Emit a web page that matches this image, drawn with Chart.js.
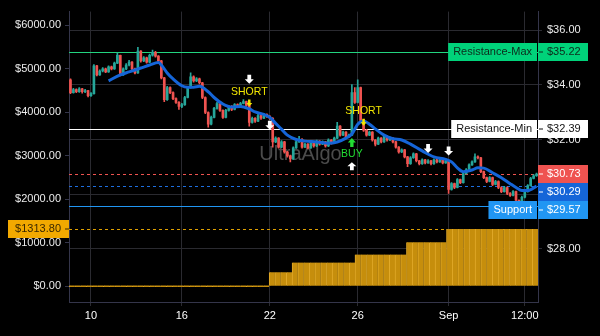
<!DOCTYPE html>
<html>
<head>
<meta charset="utf-8">
<script src="https://cdn.jsdelivr.net/npm/chart.js@4.4.1/dist/chart.umd.min.js"></script>
<style>
  html, body { margin: 0; padding: 0; background: #000; }
</style>
</head>
<body>
<canvas id="chart" width="600" height="336"></canvas>
<script>
// x axis labels (candle index -> label)
var tickIdx = [7, 38, 68, 98, 129, 155];
var tickText = ['10', '16', '22', '26', 'Sep', '12:00'];
var priceTicks = [28, 30, 32, 34, 36];
var equityTicks = [0, 1000, 2000, 3000, 4000, 5000, 6000];

// candles (right axis, $)
var opens = [
  34.19, 33.72, 33.83, 33.75, 33.86, 33.75, 33.79, 33.61, 33.68, 34.70,
  34.37, 34.51, 34.59, 34.48, 34.66, 34.59, 34.80, 35.09, 34.37, 34.59,
  34.73, 34.84, 34.59, 34.44, 35.24, 34.88, 34.99, 34.84, 35.09, 35.20,
  35.06, 34.88, 34.26, 33.46, 33.90, 33.72, 33.50, 33.36, 33.21, 33.28,
  33.54, 33.90, 34.30, 34.15, 34.22, 34.08, 33.54, 32.99, 32.56, 32.81,
  33.14, 33.32, 33.07, 32.81, 33.07, 33.21, 33.10, 33.28, 33.21, 33.32,
  33.39, 33.25, 32.63, 32.78, 32.67, 32.88, 32.78, 32.92, 32.85, 32.78,
  31.91, 32.05, 31.72, 31.91, 31.54, 31.40, 31.29, 31.69, 31.91, 32.01,
  31.72, 31.83, 31.69, 31.91, 31.76, 31.94, 31.83, 31.91, 31.76, 31.98,
  31.87, 32.05, 32.49, 32.16, 32.27, 32.09, 32.16, 33.72, 33.36, 33.90,
  32.70, 32.34, 32.16, 32.27, 31.98, 31.83, 32.05, 31.91, 32.12, 31.98,
  32.05, 31.91, 31.72, 31.54, 31.62, 31.36, 31.11, 31.33, 31.47, 31.22,
  31.11, 31.25, 31.14, 31.22, 31.11, 31.25, 31.18, 31.25, 31.14, 31.22,
  30.17, 30.38, 30.24, 30.53, 30.42, 30.75, 30.89, 31.07, 31.18, 31.36,
  31.33, 30.82, 30.60, 30.46, 30.60, 30.35, 30.46, 30.24, 30.09, 30.24,
  30.02, 29.95, 30.09, 29.77, 29.59, 29.88, 30.09, 30.31, 30.57, 30.67
];
var closes = [
  33.72, 33.83, 33.75, 33.86, 33.75, 33.79, 33.61, 33.68, 34.70, 34.37,
  34.51, 34.59, 34.48, 34.66, 34.59, 34.80, 35.09, 34.37, 34.59, 34.73,
  34.84, 34.59, 34.44, 35.24, 34.88, 34.99, 34.84, 35.09, 35.20, 35.06,
  34.88, 34.26, 33.46, 33.90, 33.72, 33.50, 33.36, 33.21, 33.28, 33.54,
  33.90, 34.30, 34.15, 34.22, 34.08, 33.54, 32.99, 32.56, 32.81, 33.14,
  33.32, 33.07, 32.81, 33.07, 33.21, 33.10, 33.28, 33.21, 33.32, 33.39,
  33.25, 32.63, 32.78, 32.67, 32.88, 32.78, 32.92, 32.85, 32.78, 31.91,
  32.05, 31.72, 31.91, 31.54, 31.40, 31.29, 31.69, 31.91, 32.01, 31.72,
  31.83, 31.69, 31.91, 31.76, 31.94, 31.83, 31.91, 31.76, 31.98, 31.87,
  32.05, 32.49, 32.16, 32.27, 32.09, 32.16, 33.72, 33.36, 33.90, 32.70,
  32.34, 32.16, 32.27, 31.98, 31.83, 32.05, 31.91, 32.12, 31.98, 32.05,
  31.91, 31.72, 31.54, 31.62, 31.36, 31.11, 31.33, 31.47, 31.22, 31.11,
  31.25, 31.14, 31.22, 31.11, 31.25, 31.18, 31.25, 31.14, 31.22, 30.17,
  30.38, 30.24, 30.53, 30.42, 30.75, 30.89, 31.07, 31.18, 31.36, 31.33,
  30.82, 30.60, 30.46, 30.60, 30.35, 30.46, 30.24, 30.09, 30.24, 30.02,
  29.95, 30.09, 29.77, 29.59, 29.88, 30.09, 30.31, 30.57, 30.67, 30.73
];
var highs = [
  34.22, 33.88, 33.86, 33.90, 33.88, 33.84, 33.80, 33.72, 34.75, 34.72,
  34.55, 34.64, 34.62, 34.70, 34.69, 34.84, 35.17, 35.10, 34.63, 34.78,
  34.90, 34.86, 34.62, 35.38, 35.26, 35.04, 35.02, 35.13, 35.28, 35.23,
  35.08, 34.90, 34.28, 33.95, 33.93, 33.75, 33.53, 33.39, 33.33, 33.58,
  33.95, 34.44, 34.33, 34.27, 34.25, 34.10, 33.56, 33.01, 32.86, 33.18,
  33.36, 33.34, 33.09, 33.11, 33.25, 33.24, 33.32, 33.31, 33.36, 33.46,
  33.41, 33.27, 32.82, 32.80, 32.93, 32.90, 32.96, 32.94, 32.88, 32.80,
  32.10, 32.07, 31.96, 31.93, 31.57, 31.43, 31.73, 31.95, 32.12, 32.03,
  31.87, 31.85, 31.95, 31.93, 31.98, 31.96, 31.95, 31.93, 32.02, 32.00,
  32.09, 32.63, 32.51, 32.31, 32.29, 32.20, 34.01, 33.90, 34.19, 33.92,
  32.72, 32.37, 32.31, 32.29, 32.00, 32.09, 32.07, 32.16, 32.14, 32.09,
  32.07, 31.93, 31.74, 31.66, 31.64, 31.38, 31.37, 31.51, 31.49, 31.24,
  31.29, 31.27, 31.26, 31.24, 31.29, 31.27, 31.29, 31.27, 31.26, 31.24,
  30.42, 30.40, 30.57, 30.55, 30.79, 30.93, 31.11, 31.22, 31.47, 31.40,
  31.35, 30.84, 30.62, 30.64, 30.62, 30.50, 30.48, 30.26, 30.28, 30.26,
  30.05, 30.13, 30.11, 29.79, 29.92, 30.13, 30.35, 30.61, 30.71, 30.77
];
var lows = [
  33.68, 33.70, 33.72, 33.73, 33.70, 33.72, 33.56, 33.58, 33.66, 34.33,
  34.35, 34.48, 34.45, 34.46, 34.55, 34.57, 34.78, 34.33, 34.35, 34.56,
  34.70, 34.55, 34.40, 34.42, 34.84, 34.85, 34.80, 34.82, 35.06, 35.02,
  34.84, 34.22, 33.39, 33.43, 33.68, 33.46, 33.32, 33.10, 33.17, 33.25,
  33.52, 33.88, 34.10, 34.12, 34.04, 33.50, 32.95, 32.45, 32.53, 32.79,
  33.11, 33.03, 32.77, 32.79, 33.04, 33.06, 33.08, 33.17, 33.19, 33.30,
  33.21, 32.49, 32.60, 32.63, 32.65, 32.74, 32.76, 32.81, 32.74, 31.72,
  31.88, 31.68, 31.70, 31.50, 31.35, 31.18, 31.27, 31.67, 31.89, 31.68,
  31.70, 31.65, 31.67, 31.72, 31.74, 31.79, 31.81, 31.72, 31.74, 31.83,
  31.85, 32.03, 32.12, 32.14, 32.05, 32.07, 32.14, 33.32, 33.34, 32.63,
  32.30, 32.12, 32.14, 31.94, 31.76, 31.81, 31.87, 31.89, 31.94, 31.96,
  31.87, 31.68, 31.50, 31.52, 31.32, 31.00, 31.09, 31.31, 31.18, 31.07,
  31.09, 31.10, 31.12, 31.07, 31.09, 31.14, 31.16, 31.10, 31.12, 30.02,
  30.14, 30.20, 30.22, 30.38, 30.40, 30.73, 30.87, 31.05, 31.16, 31.29,
  30.78, 30.56, 30.42, 30.44, 30.31, 30.33, 30.20, 30.05, 30.07, 29.98,
  29.91, 29.93, 29.73, 29.37, 29.57, 29.86, 30.07, 30.29, 30.55, 30.65
];

// moving average, read at these candle indices
var maIdx = [13, 17, 20, 24, 27, 30, 31, 33, 35, 38, 40, 42, 44, 47, 49, 52, 55, 58, 61, 63,
  66, 68, 70, 72, 74, 77, 80, 84, 88, 91, 94, 96, 98, 100, 102, 104, 107, 110, 113, 116,
  120, 124, 128, 130, 132, 134, 137, 139, 141, 144, 147, 150, 152, 154, 156, 159];
var maVal = [34.15, 34.37, 34.48, 34.62, 34.73, 34.82, 34.73, 34.44, 34.22, 33.97,
  33.92, 33.92, 33.95, 33.75, 33.54, 33.30, 33.19, 33.21, 33.12, 33.01,
  32.92, 32.81, 32.59, 32.38, 32.16, 32.00, 31.94, 31.91, 31.86, 31.91,
  32.05, 32.20, 32.56, 32.68, 32.56, 32.39, 32.16, 32.03, 31.98, 31.83,
  31.58, 31.36, 31.27, 31.18, 30.96, 30.82, 30.88, 30.96, 30.95, 30.78,
  30.60, 30.38, 30.24, 30.13, 30.13, 30.29];

// equity histogram (left axis, $)
var equity = [
  0, 0, 0, 0, 0, 0, 0, 0, 0, 0, 0, 0, 0, 0, 0, 0, 0, 0, 0, 0,
  0, 0, 0, 0, 0, 0, 0, 0, 0, 0, 0, 0, 0, 0, 0,
  318, 318, 318, 318,
  545, 545, 545, 545, 545, 545, 545, 545, 545, 545, 545,
  727, 727, 727, 727, 727, 727, 727, 727, 727,
  1008, 1008, 1008, 1008, 1008, 1008, 1008,
  1313.8, 1313.8, 1313.8, 1313.8, 1313.8, 1313.8, 1313.8, 1313.8,
  1313.8, 1313.8, 1313.8, 1313.8, 1313.8, 1313.8, 1313.8, 1313.8
];

// levels
var levelName = ['Resistance-Max', 'Resistance-Min', 'Support'];
var levelPrice = [35.22, 32.39, 29.57];

// signals
var shortIdx = [61, 100];
var shortPrice = [33.34, 32.63];
var buyIdx = [96];
var buyPrice = [31.89];
var downIdx = [61, 68, 122, 129];
var downPrice = [34.21, 32.52, 31.67, 31.58];
var upIdx = [96];
var upPrice = [31.02];

var FONT = '"Liberation Sans", Arial, sans-serif';
var UP = '#26a69a', DOWN = '#ef5350';
var GRID = '#2a2a30', AXIS = '#34354a';

var labels = closes.map(function (c, i) { return String(i); });
var histLabels = equity.map(function (v, i) { return 'h' + i; });
var candleColors = closes.map(function (c, i) { return c >= opens[i] ? UP : DOWN; });
var maData = closes.map(function () { return null; });
maIdx.forEach(function (k, j) { maData[k] = maVal[j]; });

var lastPrice = closes[closes.length - 1];
var lastMa = maVal[maVal.length - 1];
var lastEquity = equity[equity.length - 1];

function arrow(ctx, x, yc, up, w, h, color) {
  var hh = h * 0.5, sw = w * 0.42, top = yc - h / 2, bot = yc + h / 2;
  ctx.fillStyle = color;
  ctx.beginPath();
  if (up) {
    ctx.moveTo(x, top);
    ctx.lineTo(x + w / 2, top + hh);
    ctx.lineTo(x + sw / 2, top + hh);
    ctx.lineTo(x + sw / 2, bot);
    ctx.lineTo(x - sw / 2, bot);
    ctx.lineTo(x - sw / 2, top + hh);
    ctx.lineTo(x - w / 2, top + hh);
  } else {
    ctx.moveTo(x - sw / 2, top);
    ctx.lineTo(x + sw / 2, top);
    ctx.lineTo(x + sw / 2, bot - hh);
    ctx.lineTo(x + w / 2, bot - hh);
    ctx.lineTo(x, bot);
    ctx.lineTo(x - w / 2, bot - hh);
    ctx.lineTo(x - sw / 2, bot - hh);
  }
  ctx.closePath();
  ctx.fill();
}

function hline(ctx, area, y, color, dash) {
  ctx.save();
  ctx.strokeStyle = color;
  ctx.lineWidth = 1;
  ctx.setLineDash(dash || []);
  ctx.beginPath();
  ctx.moveTo(area.left, Math.round(y) + 0.5);
  ctx.lineTo(area.right, Math.round(y) + 0.5);
  ctx.stroke();
  ctx.restore();
}

var overlay = {
  id: 'overlay',
  beforeDraw: function (chart) {
    var ctx = chart.ctx;
    ctx.save();
    ctx.fillStyle = '#000';
    ctx.fillRect(0, 0, chart.width, chart.height);
    ctx.restore();
  },
  beforeDatasetsDraw: function (chart) {
    var ctx = chart.ctx, a = chart.chartArea, y1 = chart.scales.y1, y = chart.scales.y;
    ctx.save();
    ctx.font = '20px ' + FONT;
    ctx.fillStyle = 'rgba(125,125,125,0.6)';
    ctx.textAlign = 'center';
    ctx.textBaseline = 'middle';
    ctx.fillText('UltraAlgo', (a.left + a.right) / 2 - 3, (a.top + a.bottom) / 2 - 2);
    ctx.restore();

    hline(ctx, a, y1.getPixelForValue(levelPrice[0]), '#22d47f');
    hline(ctx, a, y1.getPixelForValue(levelPrice[1]), '#ffffff');
    hline(ctx, a, y1.getPixelForValue(levelPrice[2]), '#2196f3');
    hline(ctx, a, y1.getPixelForValue(lastPrice), '#ef5350', [3, 3]);
    hline(ctx, a, y1.getPixelForValue(lastMa), '#1e6fe0', [3, 3]);
    hline(ctx, a, y.getPixelForValue(lastEquity), '#e0a000', [3, 3]);
  },
  afterDatasetsDraw: function (chart) {
    var ctx = chart.ctx, x = chart.scales.x, y1 = chart.scales.y1;
    ctx.save();
    downIdx.forEach(function (k, j) {
      arrow(ctx, x.getPixelForValue(k), y1.getPixelForValue(downPrice[j]), false, 9, 9, '#ffffff');
    });
    upIdx.forEach(function (k, j) {
      arrow(ctx, x.getPixelForValue(k), y1.getPixelForValue(upPrice[j]), true, 9, 8, '#ffffff');
    });
    ctx.font = '10.5px ' + FONT;
    ctx.textAlign = 'center';
    ctx.textBaseline = 'middle';
    shortIdx.forEach(function (k, j) {
      var px = x.getPixelForValue(k), py = y1.getPixelForValue(shortPrice[j]);
      arrow(ctx, px, py, false, 6, 7, '#f2e600');
      ctx.fillStyle = '#f2e600';
      ctx.fillText('SHORT', px, py - 11);
    });
    buyIdx.forEach(function (k, j) {
      var px = x.getPixelForValue(k), py = y1.getPixelForValue(buyPrice[j]);
      arrow(ctx, px, py, true, 8, 9, '#22dd33');
      ctx.fillStyle = '#22dd33';
      ctx.fillText('BUY', px, py + 12);
    });
    ctx.restore();
  },
  afterDraw: function (chart) {
    var ctx = chart.ctx, a = chart.chartArea, y1 = chart.scales.y1, y = chart.scales.y;
    var H = 18;
    var boxes = [
      { v: levelPrice[0], fill: '#00d27a', color: '#0d2a1b', name: levelName[0] },
      { v: levelPrice[1], fill: '#ffffff', color: '#111111', name: levelName[1] },
      { v: lastPrice, fill: '#ef5350', color: '#ffffff' },
      { v: lastMa, fill: '#1565d8', color: '#ffffff' },
      { v: levelPrice[2], fill: '#2196f3', color: '#ffffff', name: levelName[2] }
    ];
    boxes.forEach(function (b) { b.py = y1.getPixelForValue(b.v); });
    boxes.sort(function (p, q) { return p.py - q.py; });
    var prevBottom = -1e9;
    ctx.save();
    ctx.font = '11px ' + FONT;
    ctx.textBaseline = 'middle';
    boxes.forEach(function (b) {
      var top = Math.max(Math.round(b.py - H / 2), prevBottom);
      prevBottom = top + H;
      var cy = top + H / 2;
      ctx.fillStyle = b.fill;
      ctx.fillRect(a.right, top, 50, H);
      ctx.fillStyle = b.color;
      ctx.fillRect(a.right + 1, Math.round(cy) - 0.5, 4, 1);
      ctx.textAlign = 'left';
      ctx.fillText('$' + b.v.toFixed(2), a.right + 9, cy);
      if (b.name) {
        var w = ctx.measureText(b.name).width + 10;
        ctx.fillStyle = b.fill;
        ctx.fillRect(a.right - 1 - w, top, w, H);
        ctx.fillStyle = b.color;
        ctx.textAlign = 'center';
        ctx.fillText(b.name, a.right - 1 - w / 2, cy);
      }
    });
    // equity label on the left axis
    var ey = y.getPixelForValue(lastEquity);
    var et = Math.round(ey - H / 2);
    ctx.fillStyle = '#f2a900';
    ctx.fillRect(8, et, a.left - 8, H);
    ctx.fillStyle = '#3a2800';
    ctx.fillRect(a.left - 4, Math.round(et + H / 2) - 0.5, 4, 1);
    ctx.textAlign = 'right';
    ctx.fillText('$' + lastEquity.toFixed(2), a.left - 8, et + H / 2);
    ctx.restore();
  }
};

new Chart(document.getElementById('chart'), {
  type: 'bar',
  data: {
    labels: labels,
    datasets: [
      {
        type: 'line', label: 'MA', data: maData, xAxisID: 'x', yAxisID: 'y1',
        borderColor: '#1565d8', borderWidth: 3, pointRadius: 0, spanGaps: true,
        cubicInterpolationMode: 'monotone', order: 0
      },
      {
        label: 'body', data: opens.map(function (o, i) { return [o, closes[i]]; }),
        xAxisID: 'x', yAxisID: 'y1', backgroundColor: candleColors,
        barThickness: 2, minBarLength: 1, grouped: false, order: 1
      },
      {
        label: 'wick', data: lows.map(function (l, i) { return [l, highs[i]]; }),
        xAxisID: 'x', yAxisID: 'y1', backgroundColor: candleColors,
        barThickness: 1, grouped: false, order: 2
      },
      {
        label: 'equity', data: equity, xAxisID: 'x2', yAxisID: 'y',
        backgroundColor: '#c68e0c', borderColor: '#e2aa2a',
        borderWidth: { left: 1, right: 0, top: 0, bottom: 0 }, borderSkipped: false,
        barPercentage: 1, categoryPercentage: 1, minBarLength: 1.5, grouped: false, order: 3
      }
    ]
  },
  options: {
    responsive: false,
    animation: false,
    layout: { padding: { top: 8, left: 0, right: 0, bottom: 0 } },
    plugins: { legend: { display: false }, tooltip: { enabled: false } },
    scales: {
      x: {
        type: 'category', offset: true,
        grid: { color: GRID, offset: false, tickLength: 4 },
        border: { color: AXIS },
        ticks: {
          autoSkip: false, maxRotation: 0, minRotation: 0, color: '#ffffff', padding: 3,
          font: { family: FONT, size: 11 },
          callback: function (v) { var k = tickIdx.indexOf(v); return k < 0 ? '' : tickText[k]; }
        },
        afterBuildTicks: function (s) { s.ticks = tickIdx.map(function (v) { return { value: v }; }); },
        afterFit: function (s) { s.height = 34; }
      },
      x2: { type: 'category', labels: histLabels, offset: true, display: false },
      y: {
        position: 'left', min: -364, max: 6318,
        grid: { drawOnChartArea: false, color: AXIS, tickLength: 4 },
        border: { color: AXIS },
        ticks: {
          color: '#ececec', padding: 4, font: { family: FONT, size: 11 },
          callback: function (v) { return '$' + v.toFixed(2); }
        },
        afterBuildTicks: function (s) { s.ticks = equityTicks.map(function (v) { return { value: v }; }); },
        afterFit: function (s) { s.width = 69; }
      },
      y1: {
        position: 'right', min: 26.04, max: 36.69,
        grid: { color: GRID, tickLength: 4 },
        border: { color: AXIS },
        ticks: {
          color: '#ececec', padding: 5, font: { family: FONT, size: 11 },
          callback: function (v) { return '$' + v.toFixed(2); }
        },
        afterBuildTicks: function (s) { s.ticks = priceTicks.map(function (v) { return { value: v }; }); },
        afterFit: function (s) { s.width = 62; }
      }
    }
  },
  plugins: [overlay]
});
</script>
</body>
</html>
